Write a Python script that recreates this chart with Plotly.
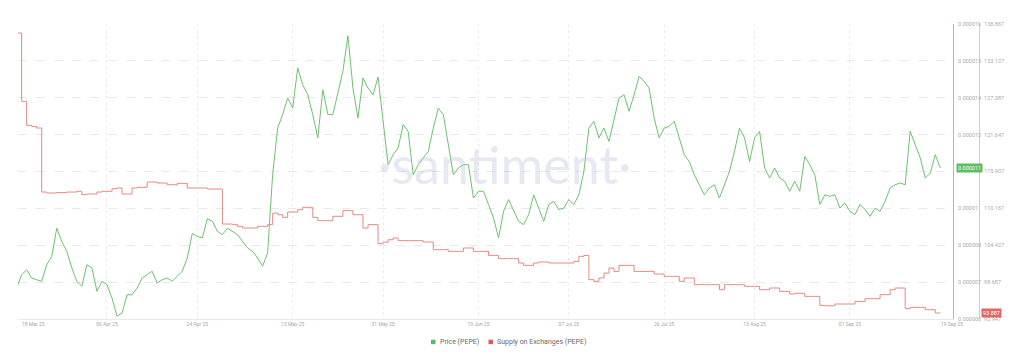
import pandas as pd
import plotly.graph_objects as go

# ---------------- data ----------------
start_date = "2025-03-19"

# PEPE price in millionths of USD (daily)
price_micro = [
    7.05, 7.50, 7.67, 7.39, 7.33, 7.28, 7.84, 8.12, 9.08, 8.63,
    8.29, 7.73, 7.28, 7.11, 7.84, 7.73, 6.94, 7.28, 7.16, 6.71,
    6.10, 6.20, 6.82, 6.82, 7.05, 7.39, 7.50, 7.62, 7.22, 7.33,
    7.39, 7.28, 7.45, 7.62, 8.07, 8.90, 8.80, 8.75, 9.40, 9.31,
    8.97, 8.86, 9.08, 8.97, 8.86, 8.63, 8.41, 8.29, 8.07, 7.79,
    8.24, 10.89, 12.47, 12.93, 13.49, 13.15, 14.51, 13.94, 13.60, 12.93,
    12.14, 13.77, 12.93, 12.93, 13.72, 14.40, 15.60, 13.83, 12.81, 14.17,
    13.83, 13.60, 14.20, 12.81, 11.23, 11.57, 11.80, 12.59, 12.36, 10.89,
    11.23, 11.46, 11.68, 12.47, 13.15, 12.93, 11.91, 10.89, 11.12, 11.23,
    11.23, 10.10, 10.33, 10.33, 9.88, 9.42, 8.75, 9.65, 10.05, 9.65,
    9.31, 9.20, 9.54, 10.21, 9.76, 9.31, 9.88, 9.99, 9.71, 9.76,
    10.05, 9.88, 10.21, 11.00, 12.47, 12.70, 12.14, 12.47, 12.02, 12.81,
    13.49, 13.60, 13.04, 13.60, 14.23, 14.06, 13.83, 12.81, 12.14, 12.47,
    12.53, 12.70, 12.14, 11.57, 11.34, 10.89, 10.55, 10.21, 10.44, 10.55,
    10.10, 10.55, 11.00, 11.68, 12.47, 12.14, 11.34, 12.14, 12.36, 11.12,
    10.78, 11.12, 10.78, 10.67, 10.33, 10.67, 10.33, 11.51, 11.23, 10.89,
    9.88, 10.21, 10.16, 10.21, 9.76, 9.93, 9.65, 9.54, 9.88, 9.71,
    9.48, 9.76, 9.65, 9.99, 10.44, 10.55, 10.61, 10.55, 12.36, 11.91,
    11.46, 10.78, 10.95, 11.57, 11.12,
]

# Supply on exchanges (daily)
supply = [
    137.46, 126.83, 123.09, 122.90, 122.68, 112.71, 112.56, 112.56, 112.62, 112.62,
    112.71, 112.71, 112.82, 112.30, 112.40, 112.40, 112.71, 112.82, 112.82, 113.23,
    113.34, 112.40, 112.40, 113.34, 113.44, 113.44, 114.27, 114.27, 114.11, 114.11,
    113.85, 113.85, 114.06, 114.06, 113.34, 113.34, 113.34, 113.34, 113.18, 113.18,
    113.18, 107.73, 107.73, 107.63, 107.37, 107.11, 107.11, 107.11, 107.37, 107.37,
    107.63, 109.44, 109.18, 108.77, 109.60, 109.60, 109.96, 110.33, 110.33, 108.77,
    108.25, 108.25, 108.25, 108.93, 108.93, 109.81, 109.81, 109.18, 109.18, 107.11,
    107.63, 107.63, 104.67, 104.90, 105.29, 105.55, 105.14, 105.14, 105.14, 105.14,
    105.14, 104.93, 104.93, 103.74, 103.74, 103.74, 103.48, 103.48, 103.48, 104.00,
    104.00, 103.48, 103.48, 103.48, 102.85, 102.85, 102.34, 102.34, 102.34, 102.34,
    101.66, 101.30, 101.30, 101.66, 101.82, 101.82, 101.66, 101.66, 101.66, 101.66,
    101.66, 101.92, 102.70, 102.85, 99.07, 98.81, 99.33, 100.10, 100.88, 100.36,
    101.30, 101.30, 101.30, 100.36, 100.36, 100.36, 100.36, 99.95, 99.95, 99.58,
    99.58, 99.58, 98.81, 99.33, 99.33, 98.29, 98.29, 98.29, 98.29, 98.29,
    97.51, 98.29, 98.29, 98.29, 98.29, 98.03, 98.03, 98.03, 97.51, 97.51,
    97.77, 97.77, 97.25, 97.25, 96.84, 96.95, 96.95, 96.47, 96.47, 96.47,
    95.07, 95.00, 95.00, 95.28, 95.28, 95.28, 95.28, 95.69, 95.69, 96.11,
    96.11, 96.11, 96.73, 96.73, 97.51, 97.77, 97.77, 94.55, 94.76, 94.76,
    94.76, 94.40, 94.40, 93.88, 93.887,
]

date_ticks = ["2025-04-06", "2025-04-24", "2025-05-13", "2025-05-31", "2025-06-19",
              "2025-07-07", "2025-07-26", "2025-08-13", "2025-09-01"]
date_tick_text = ["06 Apr 25", "24 Apr 25", "13 May 25", "31 May 25", "19 Jun 25",
                  "07 Jul 25", "26 Jul 25", "13 Aug 25", "01 Sep 25"]
edge_labels = ["18 Mar 25", "19 Sep 25"]

price_tick_vals = [0.000006, 0.00000725, 0.0000085, 0.00000975, 0.000011,
                   0.00001225, 0.0000135, 0.00001475, 0.000016]
price_tick_text = ["0.000006", "0.000007", "0.000008", "0.00001", "0.000011",
                   "0.000012", "0.000014", "0.000015", "0.000016"]
supply_tick_vals = [92.947, 98.687, 104.427, 110.167, 115.907, 121.647, 127.387, 133.127, 138.867]
supply_tick_text = ["92.947", "98.687", "104.427", "110.167", "115.907",
                    "121.647", "127.387", "133.127", "138.867"]
current_price_text = "0.000011"

price_label = "Price (PEPE)"
supply_label = "Supply on Exchanges (PEPE)"

# ---------------- figure ----------------
dates = pd.date_range(start_date, periods=len(price_micro), freq="D")
price = [v * 1e-6 for v in price_micro]

W, H = 1024, 354
L, R, T, B = 18, 45, 24, 35
PW = W - L - R
PH = H - T - B
AX_RIGHT = 953


def px_x(p):
    return (p - L) / PW


def px_y(p):
    return (H - B - p) / PH


GREEN = "#6cc36f"
RED = "#e48a82"
FONT = "Roboto"

# the current-price badge sits on top of the 0.000011 tick, so that tick text is carried by the badge
axis_price_text = [("" if t == current_price_text else t) for t in price_tick_text]

fig = go.Figure()
fig.add_trace(go.Scatter(x=dates, y=supply, yaxis="y2", mode="lines", name=supply_label,
                         line=dict(color=RED, width=1, shape="hv"), showlegend=False))
fig.add_trace(go.Scatter(x=dates, y=price, yaxis="y", mode="lines", name=price_label,
                         line=dict(color=GREEN, width=1), showlegend=False))

annotations = [
    dict(text="·santiment·", xref="paper", yref="paper", x=px_x(505), y=px_y(164),
         xanchor="center", yanchor="middle", showarrow=False,
         font=dict(family="Lato", size=52, color="rgba(185,190,220,0.36)")),
    dict(text=edge_labels[0], xref="paper", yref="paper", x=px_x(20), y=px_y(324),
         xanchor="left", yanchor="middle", showarrow=False,
         font=dict(family=FONT, size=5, color="#a6a6a6")),
    dict(text=edge_labels[1], xref="paper", yref="paper", x=px_x(951.5), y=px_y(324),
         xanchor="center", yanchor="middle", showarrow=False,
         font=dict(family=FONT, size=5, color="#a6a6a6")),
    dict(text=current_price_text, xref="paper", yref="y", x=px_x(956), y=price[-1],
         xanchor="left", yanchor="middle", showarrow=False, bgcolor="#5dbd61",
         borderpad=1, font=dict(family=FONT, size=5.5, color="white")),
    dict(text=f"{supply[-1]:.3f}", xref="paper", yref="y2", x=px_x(981), y=supply[-1],
         xanchor="left", yanchor="middle", showarrow=False, bgcolor="#e06868",
         borderpad=1, font=dict(family=FONT, size=5.5, color="white")),
    dict(text=price_label, xref="paper", yref="paper", x=px_x(437.5), y=px_y(342),
         xanchor="left", yanchor="middle", showarrow=False,
         font=dict(family=FONT, size=7, color="#6a6a6a")),
    dict(text=supply_label, xref="paper", yref="paper", x=px_x(495), y=px_y(342),
         xanchor="left", yanchor="middle", showarrow=False,
         font=dict(family=FONT, size=7, color="#6a6a6a")),
]

shapes = [
    dict(type="rect", xref="paper", yref="paper", x0=px_x(431), x1=px_x(435.5),
         y0=px_y(344.2), y1=px_y(339.7), fillcolor="#5cb85f", line=dict(width=0)),
    dict(type="rect", xref="paper", yref="paper", x0=px_x(488.5), x1=px_x(493),
         y0=px_y(344.2), y1=px_y(339.7), fillcolor="#e05c5c", line=dict(width=0)),
]

fig.update_layout(
    width=W, height=H,
    margin=dict(l=L, r=R, t=T, b=B, pad=0),
    paper_bgcolor="white", plot_bgcolor="white",
    font=dict(family=FONT, size=6, color="#a6a6a6"),
    showlegend=False,
    annotations=annotations,
    shapes=shapes,
    xaxis=dict(
        domain=[0, px_x(AX_RIGHT)],
        range=["2025-03-19 06:40", "2025-09-21 12:40"],
        tickvals=date_ticks, ticktext=date_tick_text,
        showgrid=True, gridcolor="#ededed", griddash="dot", gridwidth=1,
        showline=True, linecolor="#e9e9e9", linewidth=1,
        ticks="", tickfont=dict(family=FONT, size=5, color="#a6a6a6"),
        zeroline=False,
    ),
    yaxis=dict(
        side="right", anchor="x",
        range=[price_tick_vals[0], price_tick_vals[-1]],
        tickvals=price_tick_vals, ticktext=axis_price_text,
        showgrid=True, gridcolor="#e9e9e9", griddash="dash", gridwidth=1,
        showline=True, linecolor="#8fd292", linewidth=1,
        ticks="", ticklabelstandoff=3,
        tickfont=dict(family=FONT, size=5.5, color="#aaaaaa"),
        zeroline=False,
    ),
    yaxis2=dict(
        side="right", anchor="free", overlaying="y", position=1,
        range=[supply_tick_vals[0], supply_tick_vals[-1]],
        tickvals=supply_tick_vals, ticktext=supply_tick_text,
        showgrid=False,
        showline=True, linecolor="#efc1bc", linewidth=1,
        ticks="", ticklabelstandoff=3,
        tickfont=dict(family=FONT, size=5.5, color="#aaaaaa"),
        zeroline=False,
    ),
)

fig.write_html("out.html")
